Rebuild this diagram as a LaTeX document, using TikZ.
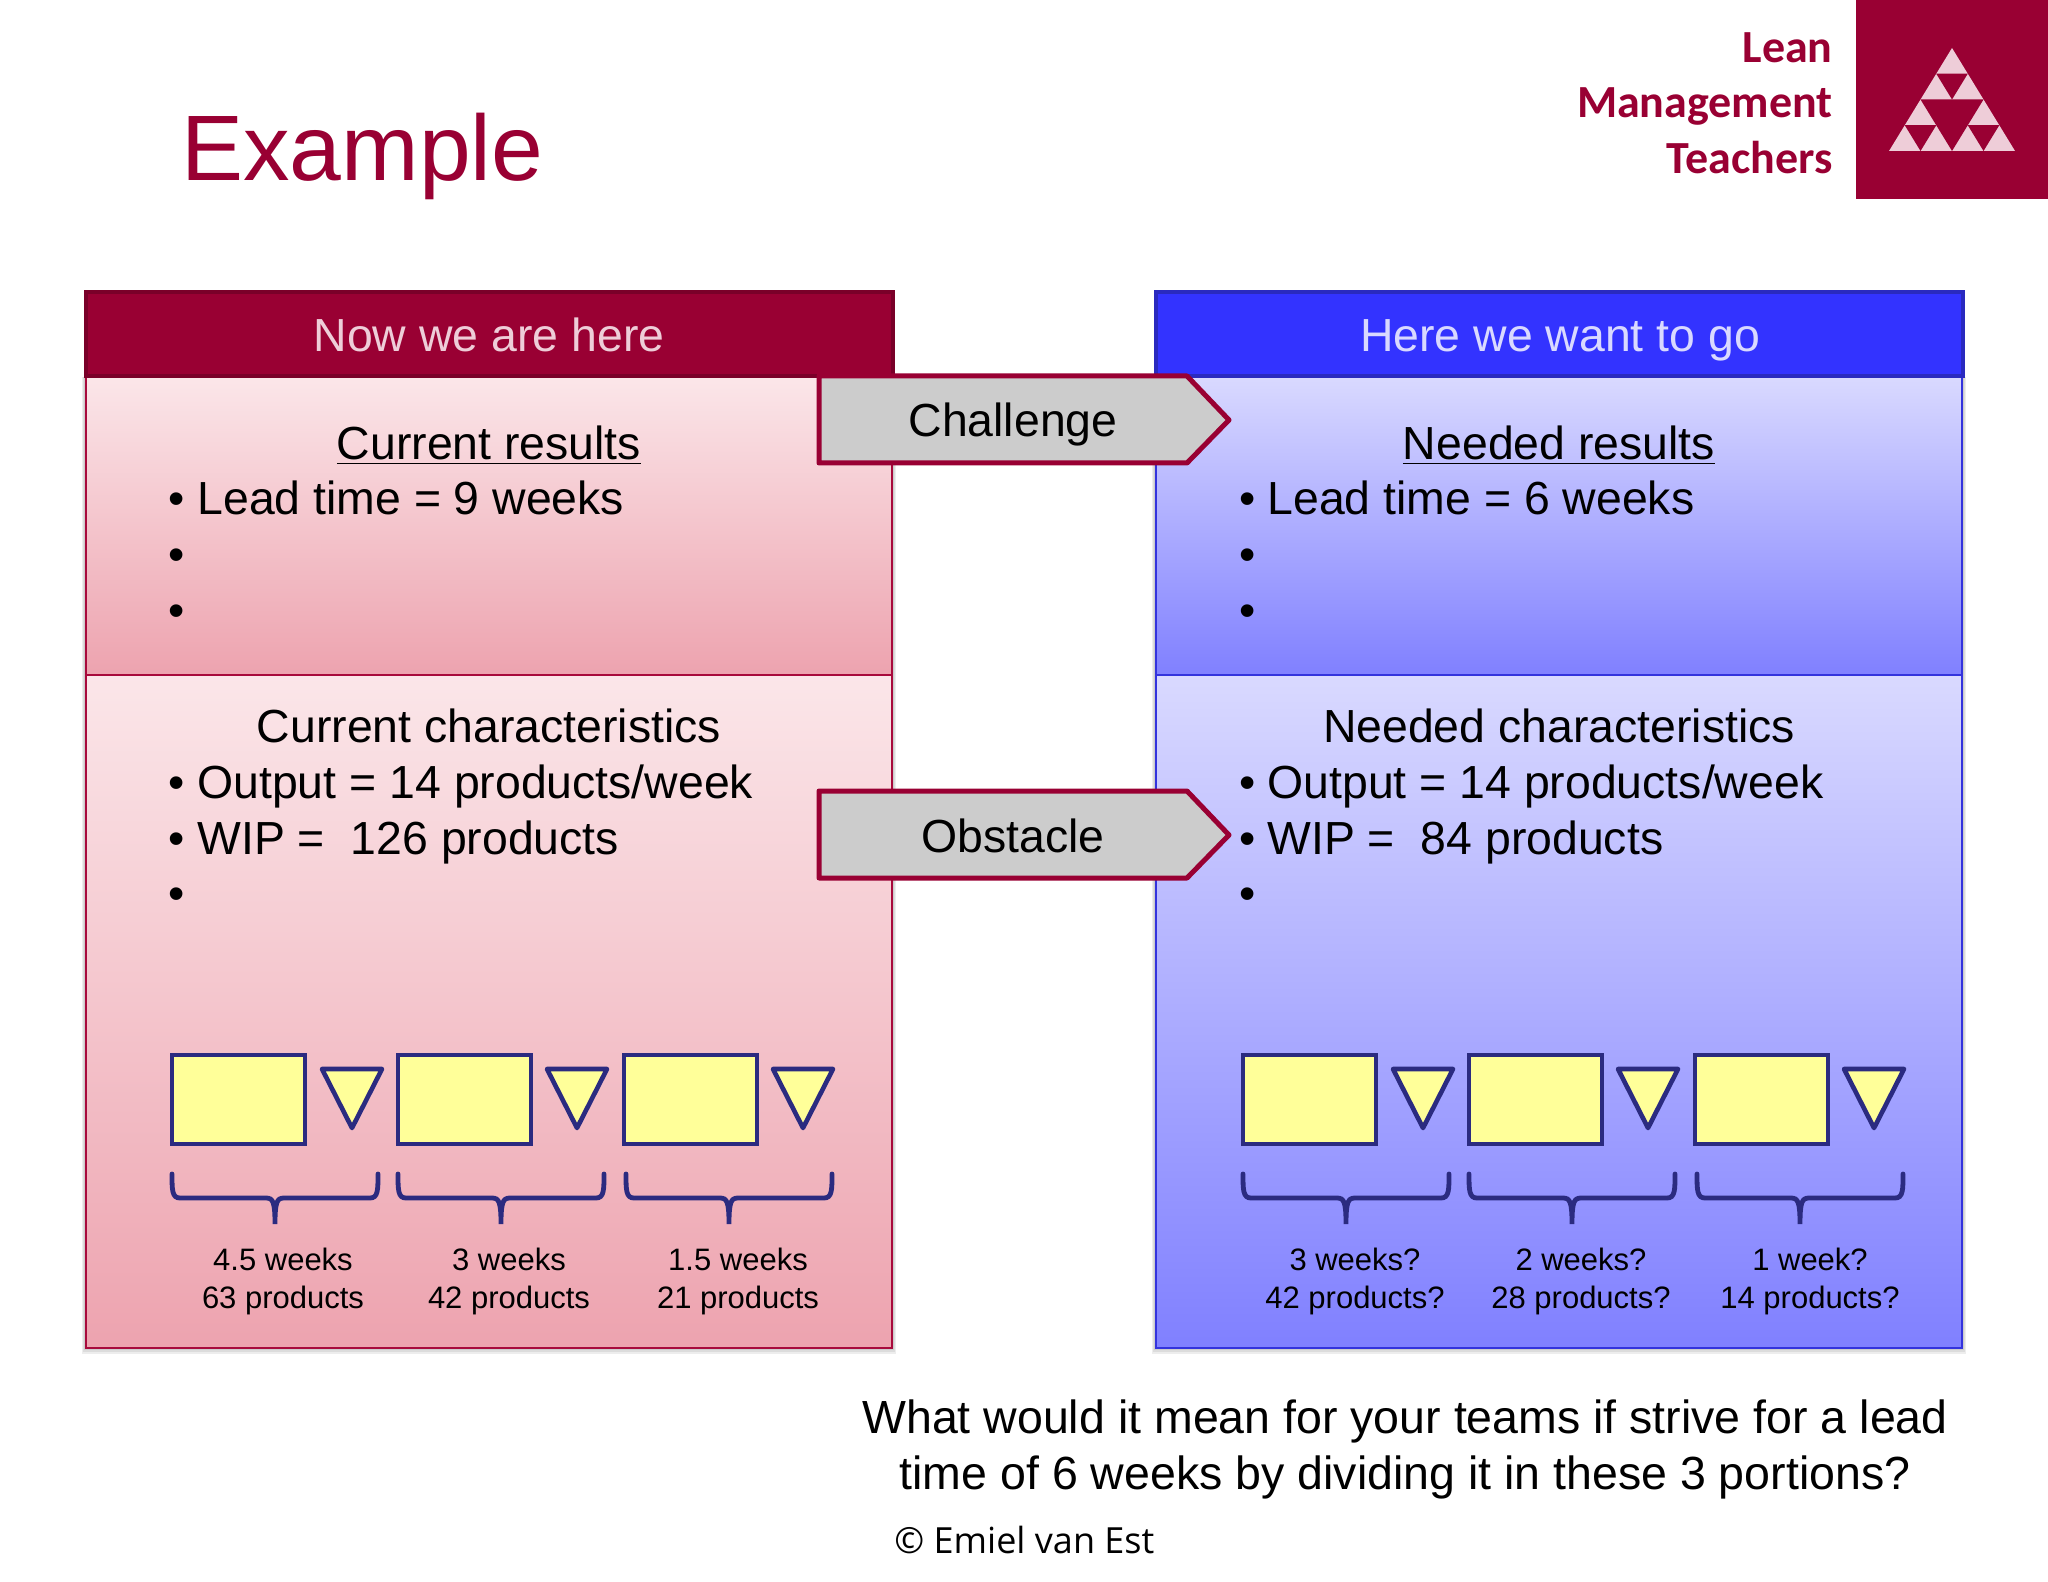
\documentclass[tikz,border=0pt]{standalone}
\usepackage{fontspec}
\setmainfont{Liberation Sans}
\newfontfamily\logofont{Carlito}
\newfontfamily\copyfont{Open Sans}
\definecolor{lmt}{HTML}{990033}
\definecolor{lmtdark}{HTML}{7A0029}
\definecolor{lmtlight}{HTML}{EECDD8}
\definecolor{pinktop}{HTML}{FBE6E9}
\definecolor{pinkbot}{HTML}{EDA3AF}
\definecolor{pinkline}{HTML}{A80A3C}
\definecolor{bluehead}{HTML}{3333FF}
\definecolor{bluedark}{HTML}{2A2ABF}
\definecolor{bluetop}{HTML}{D9D9FF}
\definecolor{bluebot}{HTML}{8080FF}
\definecolor{blueline}{HTML}{3333DD}
\definecolor{navy}{HTML}{2B2B80}
\definecolor{yel}{HTML}{FFFF99}
\definecolor{arrowgray}{HTML}{CCCCCC}
\tikzset{
  body/.style={font=\fontsize{23.2}{28}\selectfont,anchor=base,inner sep=0pt,text=black},
  item/.style={body,anchor=base west},
  small/.style={font=\fontsize{15.5}{19}\selectfont,anchor=base,inner sep=0pt,text=black},
  headtext/.style={font=\fontsize{23.2}{28}\selectfont,anchor=base,inner sep=0pt},
  logotext/.style={font=\logofont\bfseries\fontsize{23}{28}\selectfont,anchor=base east,inner sep=0pt,text=lmt},
  box/.style={draw=navy,line width=2.3pt,fill=yel,line join=miter},
  tri/.style={draw=navy,line width=2.3pt,fill=yel,line join=round},
  brace/.style={draw=navy,line width=2.4pt,line cap=round},
  flag/.style={draw=lmt,line width=2.5pt,fill=arrowgray,line join=round},
  pinkpanel/.style={top color=pinktop,bottom color=pinkbot,draw=pinkline,line width=1pt},
  bluepanel/.style={top color=bluetop,bottom color=bluebot,draw=blueline,line width=1pt},
  shadowrect/.style={fill=black,fill opacity=0.07,draw=none},
}
\newcommand{\vsmset}[2]{%
  % #1 = x offset, #2 = name prefix
  \begin{scope}[xshift=#1*0.5pt]
    \draw[box] (172,1055) rectangle (305,1144);
    \draw[box] (398,1055) rectangle (531,1144);
    \draw[box] (624,1055) rectangle (757,1144);
    \draw[tri] (322,1069) -- (382,1069) -- (352,1128) -- cycle;
    \draw[tri] (547,1069) -- (607,1069) -- (577,1128) -- cycle;
    \draw[tri] (773,1069) -- (833,1069) -- (803,1128) -- cycle;
    \foreach \a/\t/\b in {172/275/378,398/501/604,626/729/832}{
      \draw[brace] (\a,1174) .. controls (\a,1190) and (\a,1198) .. (\a+8,1198)
        -- (\t-9,1198) .. controls (\t-2,1198) and (\t,1202) .. (\t,1224)
        .. controls (\t,1202) and (\t+2,1198) .. (\t+9,1198)
        -- (\b-8,1198) .. controls (\b,1198) and (\b,1190) .. (\b,1174);
    }
  \end{scope}}
\begin{document}
\begin{tikzpicture}[x=0.5pt,y=-0.5pt]
\useasboundingbox (0,0) rectangle (2048,1582);
\fill[white] (0,0) rectangle (2048,1582);

% title
\node[font=\fontsize{46.5}{52}\selectfont,text=lmt,anchor=base west,inner sep=0pt] (title) at (181,181) {Example};

% logo
\fill[lmt] (1856,0) rectangle (2048,199);
\fill[lmtlight] (1952,48) -- (2015,151) -- (1889,151) -- cycle;
\fill[lmt] (1920.5,99.5) -- (1983.5,99.5) -- (1952,151) -- cycle;
\fill[lmt] (1936.25,73.75) -- (1967.75,73.75) -- (1952,99.5) -- cycle;
\fill[lmt] (1904.75,125.25) -- (1936.25,125.25) -- (1920.5,151) -- cycle;
\fill[lmt] (1967.75,125.25) -- (1999.25,125.25) -- (1983.5,151) -- cycle;
\node[logotext] (logo1) at (1833,63) {Lean};
\node[logotext] (logo2) at (1833,118) {Management};
\node[logotext] (logo3) at (1833,174) {Teachers};

% shadows
\foreach \i in {1,2,3}{
  \fill[shadowrect] (85-\i,377) rectangle (893+\i,1348+2*\i);
  \fill[shadowrect] (1155-\i,377) rectangle (1963+\i,1348+2*\i);
}

% left panels
\draw[pinkpanel] (86,377) rectangle (892,675);
\draw[pinkpanel] (86,675) rectangle (892,1348);
\draw[draw=lmtdark,line width=2pt,fill=lmt] (86,292) rectangle (893,376);
% right panels
\draw[bluepanel] (1156,377) rectangle (1962,675);
\draw[bluepanel] (1156,675) rectangle (1962,1348);
\draw[draw=bluedark,line width=2pt,fill=bluehead] (1156,292) rectangle (1963,376);

\node[headtext,text=lmtlight] (h1) at (489,352) {Now we are here};
\node[headtext,text=bluetop] (h2) at (1560,352) {Here we want to go};

% flags
\draw[flag] (819,376) -- (1187,376) -- (1229,420) -- (1187,463) -- (819,463) -- cycle;
\node[headtext] (challenge) at (1013,437) {Challenge};
\draw[flag] (819,791) -- (1187,791) -- (1229,835) -- (1187,878) -- (819,878) -- cycle;
\node[headtext] (obstacle) at (1013,852) {Obstacle};

% left text
\node[body] (lr) at (489,460) {\underline{Current results}};
\node[item] (lb1) at (168,515) {•};
\node[item] (lt1) at (197,515) {Lead time = 9 weeks};
\node[item] (lb2) at (168,571) {•};
\node[item] (lb3) at (168,626) {•};
\node[body] (lc) at (489,742) {Current characteristics};
\node[item] (lb4) at (168,798) {•};
\node[item] (lt4) at (197,798) {Output = 14 products/week};
\node[item] (lb5) at (168,854) {•};
\node[item] (lt5) at (197,854) {WIP =\ \ 126 products};
\node[item] (lb6) at (168,909) {•};

% right text
\node[body] (rr) at (1559,460) {\underline{Needed results}};
\node[item] (rb1) at (1239,515) {•};
\node[item] (rt1) at (1267,515) {Lead time = 6 weeks};
\node[item] (rb2) at (1239,571) {•};
\node[item] (rb3) at (1239,626) {•};
\node[body] (rc) at (1559,742) {Needed characteristics};
\node[item] (rb4) at (1239,798) {•};
\node[item] (rt4) at (1267,798) {Output = 14 products/week};
\node[item] (rb5) at (1239,854) {•};
\node[item] (rt5) at (1267,854) {WIP =\ \ 84 products};
\node[item] (rb6) at (1239,909) {•};

% process symbols
\vsmset{0}{l}
\vsmset{1071}{r}

% small labels
\node[small] (s1a) at (283,1270) {4.5 weeks};
\node[small] (s1b) at (283,1308) {63 products};
\node[small] (s2a) at (509,1270) {3 weeks};
\node[small] (s2b) at (509,1308) {42 products};
\node[small] (s3a) at (738,1270) {1.5 weeks};
\node[small] (s3b) at (738,1308) {21 products};
\node[small] (s4a) at (1355,1270) {3 weeks?};
\node[small] (s4b) at (1355,1308) {42 products?};
\node[small] (s5a) at (1581,1270) {2 weeks?};
\node[small] (s5b) at (1581,1308) {28 products?};
\node[small] (s6a) at (1810,1270) {1 week?};
\node[small] (s6b) at (1810,1308) {14 products?};

% question
\node[body,font=\fontsize{23.25}{28}\selectfont] (q1) at (1405,1433) {What would it mean for your teams if strive for a lead};
\node[body,font=\fontsize{23.25}{28}\selectfont] (q2) at (1405,1489) {time of 6 weeks by dividing it in these 3 portions?};
\node[font=\copyfont\fontsize{18}{22}\selectfont,anchor=base west,inner sep=0pt] (copy) at (894,1553) {© Emiel van Est};
\end{tikzpicture}
\end{document}
